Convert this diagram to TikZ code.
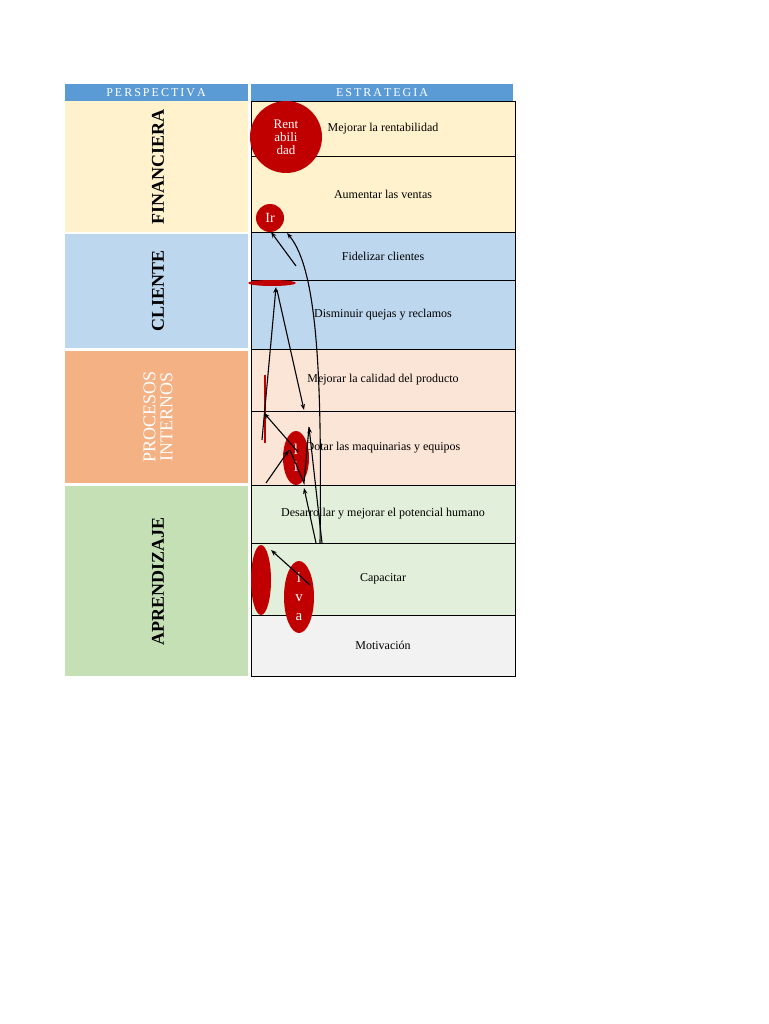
\documentclass[tikz,border=0pt]{standalone}
\usepackage{fontspec}
\setmainfont{Liberation Serif}
\usetikzlibrary{arrows.meta}
\definecolor{hdr}{HTML}{5B9BD5}
\definecolor{fin}{HTML}{FFF2CC}
\definecolor{cli}{HTML}{BDD7EE}
\definecolor{pro}{HTML}{F4B183}
\definecolor{proL}{HTML}{FBE5D6}
\definecolor{apr}{HTML}{C5E0B4}
\definecolor{aprL}{HTML}{E2EFDA}
\definecolor{mot}{HTML}{F2F2F2}
\definecolor{rd}{HTML}{C00000}
\begin{document}
\begin{tikzpicture}[x=1pt,y=-1pt,
  hd/.style={font=\fontsize{12}{13}\selectfont, text=white},
  per/.style={rotate=90, font=\fontsize{18}{18}\selectfont\bfseries, align=center},
  est/.style={font=\fontsize{12}{13}\selectfont},
  row/.style={draw=black, line width=0.6pt},
  blob/.style={fill=rd, draw=none},
  arr/.style={-{Stealth[length=6pt]}, line width=1.1pt}]
\useasboundingbox (0,0) rectangle (768,1024);
% header
\fill[hdr] (65,84) rectangle (248,101);
\fill[hdr] (251,84) rectangle (513,101);
\node[hd] (h1) at (156,92.5) {P\,E\,R\,S\,P\,E\,C\,T\,I\,V\,A};
\node[hd] (h2) at (382,92.5) {E\,S\,T\,R\,A\,T\,E\,G\,I\,A};
% perspectives
\fill[fin] (65,101) rectangle (248,232);
\fill[cli] (65,234) rectangle (248,348);
\fill[pro] (65,351) rectangle (248,483);
\fill[apr] (65,486) rectangle (248,676);
\node[per] (p1) at (158,167) {FINANCIERA};
\node[per] (p2) at (158,291) {CLIENTE};
\node[per, text=white, font=\fontsize{18}{17}\selectfont] (p3) at (158,417) {PROCESOS\\INTERNOS};
\node[per] (p4) at (158,581) {APRENDIZAJE};
% strategies
\foreach \a/\b/\c/\t/\n in {101/156/fin/Mejorar la rentabilidad/s1,
  156/232/fin/Aumentar las ventas/s2,
  232/280/cli/Fidelizar clientes/s3,
  280/349/cli/Disminuir quejas y reclamos/s4,
  349/411/proL/Mejorar la calidad del producto/s5,
  411/485/proL/Dotar las maquinarias y equipos/s6,
  485/543/aprL/Desarrollar y mejorar el potencial humano/s7,
  543/615/aprL/Capacitar/s8,
  615/676/mot/Motivación/s9}{
  \fill[\c] (251,\a) rectangle (515,\b);
  \draw[row] (251,\a) rectangle (515,\b);
  \node[est] (\n) at (383,{(\a+\b)/2}) {\t};
}
% red blobs
\fill[blob] (286,137) circle (36);
\fill[blob] (270,218) circle (14);
\fill[blob] (272,283) ellipse (24 and 3);
\fill[blob] (296,458) ellipse (13 and 27);
\fill[blob] (261,580) ellipse (10 and 35);
\fill[blob] (299,597) ellipse (15 and 36);
\draw[rd, line width=1.2pt] (265,375) -- (265,443);
\node[text=white, font=\fontsize{14}{14}\selectfont] (t1) at (270,218) {Ir};
\node[text=white, font=\fontsize{15}{17}\selectfont, align=center] (t2) at (296,458) {l\\i};
\node[text=white, font=\fontsize{15}{19}\selectfont, align=center] (t3) at (299,597) {i\\v\\a};
\node[text=white, font=\fontsize{13}{13}\selectfont, align=center] (t4) at (286,137) {Rent\\abili\\dad};
% connectors
\coordinate (c1) at (310,585); \coordinate (c1e) at (271,550);
\coordinate (c2) at (322,543); \coordinate (c2e) at (309,427);
\coordinate (c3) at (316,543); \coordinate (c3e) at (304,488);
\coordinate (c4) at (266,483); \coordinate (c4e) at (289,450);
\coordinate (c5) at (298,452); \coordinate (c5e) at (264,413);
\coordinate (c6) at (277,290); \coordinate (c6e) at (304,410);
\coordinate (c7) at (262,440); \coordinate (c7e) at (276,287);
\coordinate (c8) at (296,266); \coordinate (c8e) at (271,232);
\coordinate (c9) at (320,543); \coordinate (c9e) at (287,233);
\coordinate (v1) at (290,450); \coordinate (v2) at (304,483);
\draw[arr] (c1) -- (c1e);
\draw[arr] (c2) -- (c2e);
\draw[arr] (c3) -- (c3e);
\draw[arr] (c4) -- (c4e);
\draw[arr] (c5) -- (c5e);
\draw[arr] (c6) -- (c6e);
\draw[arr] (c7) -- (c7e);
\draw[arr] (c8) -- (c8e);
\draw[line width=1.1pt] (v1) -- (v2) -- (c2e);
\draw[arr] (c9) .. controls (322,380) and (318,270) .. (c9e);
\end{tikzpicture}
\end{document}
